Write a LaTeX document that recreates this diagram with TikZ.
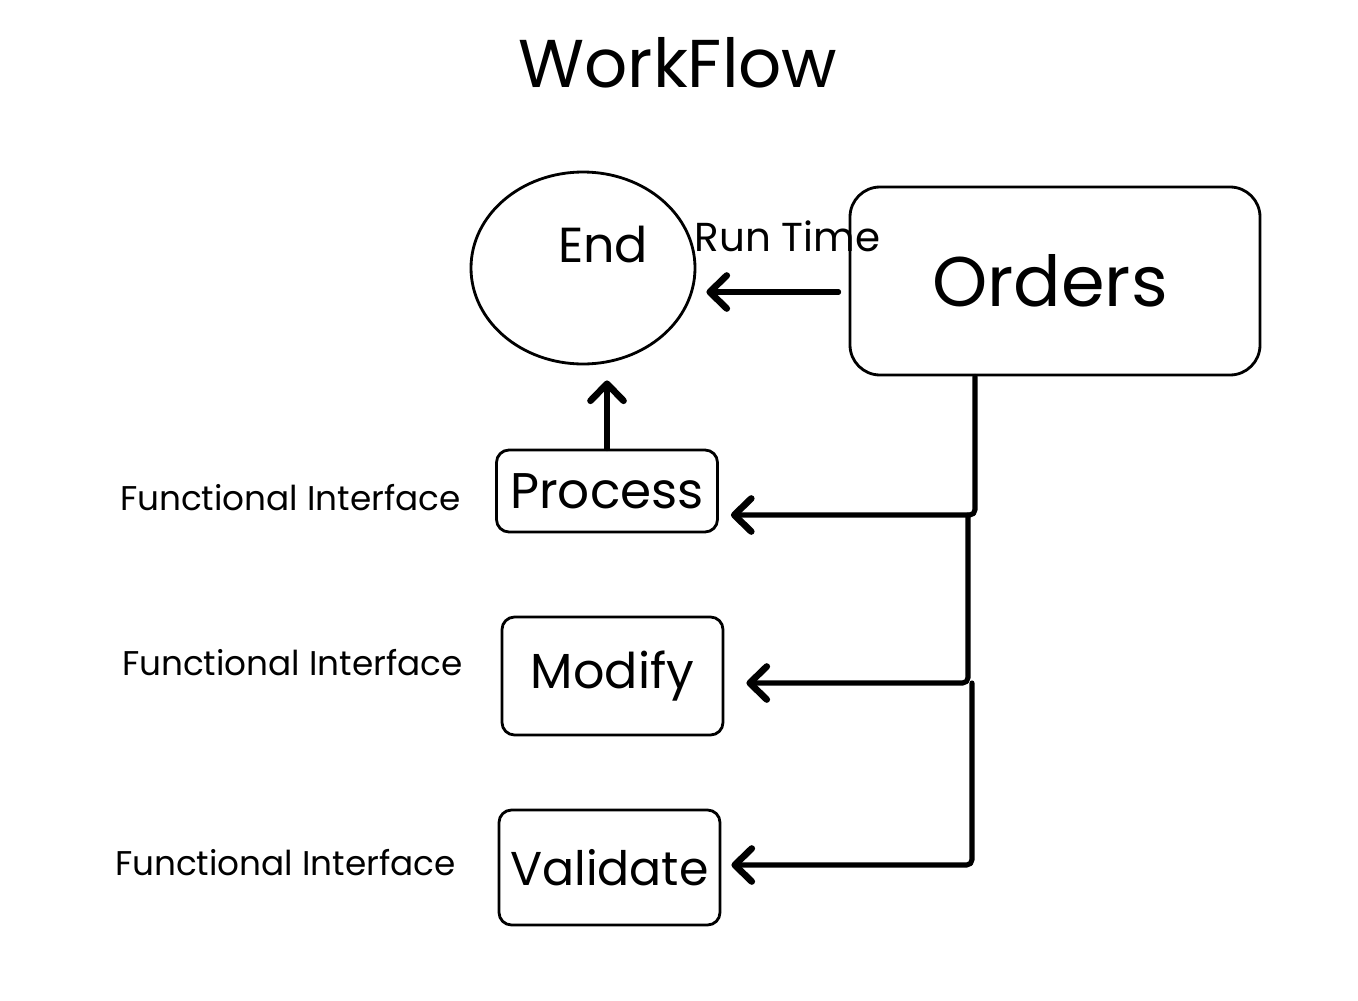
\documentclass[tikz,border=0pt]{standalone}
\usepackage{fontspec}
\setmainfont{Poppins}
\usetikzlibrary{arrows.meta,shapes.geometric,positioning}

\tikzset{
  box/.style={draw,line width=1.6pt,rounded corners=0.25cm,minimum width=4.42cm,inner sep=0pt},
  arr/.style={line width=2.9pt,line cap=round,line join=round,rounded corners=3pt,
    -{Straight Barb[length=0.34cm,width=0.66cm,round,line width=3.8pt]}},
  fi/.style={anchor=east,font=\fontsize{19.5}{22}\selectfont},
  step text/.style={font=\fontsize{#1}{32}\selectfont}
}

\begin{document}
\begin{tikzpicture}
\useasboundingbox (0,0) rectangle (27.16,-20);
% title
\node(title) at (13.56,-1.25) {\fontsize{38.5}{44}\selectfont WorkFlow};

% circle and big box
\node(end)[draw,ellipse,line width=1.6pt,minimum width=4.48cm,minimum height=3.84cm,
  label={[xshift=0.4cm,yshift=0.46cm,font=\fontsize{28}{32}\selectfont]center:End}] at (11.66,-5.36) {};
\node(orders)[box,rounded corners=0.6cm,minimum width=8.2cm,minimum height=3.76cm,
  font=\fontsize{40}{46}\selectfont] at (21.1,-5.62) {\hspace*{-0.2cm}Orders};
\node(runtime) at (15.75,-4.72) {\fontsize{23}{26}\selectfont Run Time};

% the three steps
\node(process)[box,minimum height=1.64cm,step text=28.5] at (12.14,-9.82) {Process};
\node(modify)[box,minimum height=2.36cm,step text=28] at (12.25,-13.52) {Modify};
\node(validate)[box,minimum height=2.3cm,step text=27] at (12.19,-17.35) {Validate};

\node(fi1)[fi] at (9.34,-9.96) {Functional Interface};
\node(fi2)[fi] at (9.38,-13.26) {Functional Interface};
\node(fi3)[fi] at (9.24,-17.26) {Functional Interface};

% junctions on the right
\coordinate(j1) at (19.5,-10.3);
\coordinate(j2) at (19.36,-13.66);
\coordinate(j3) at (19.44,-17.3);

\draw[arr,shorten >=0.2cm] ([xshift=-0.2cm,yshift=-0.22cm]orders.west) -- ([yshift=-0.22cm]orders.west -| end.east);
\draw[arr,shorten >=0.3cm] (process.north) -- (process.north |- end.south);
\draw[arr,shorten >=0.24cm] (orders.south -| j1) -- (j1) -- (j1 -| process.east);
\draw[arr,shorten >=0.44cm] (j1 -| j2) -- (j2) -- (j2 -| modify.east);
\draw[arr,shorten >=0.2cm] (j2 -| j3) -- (j3) -- (j3 -| validate.east);
\end{tikzpicture}
\end{document}
